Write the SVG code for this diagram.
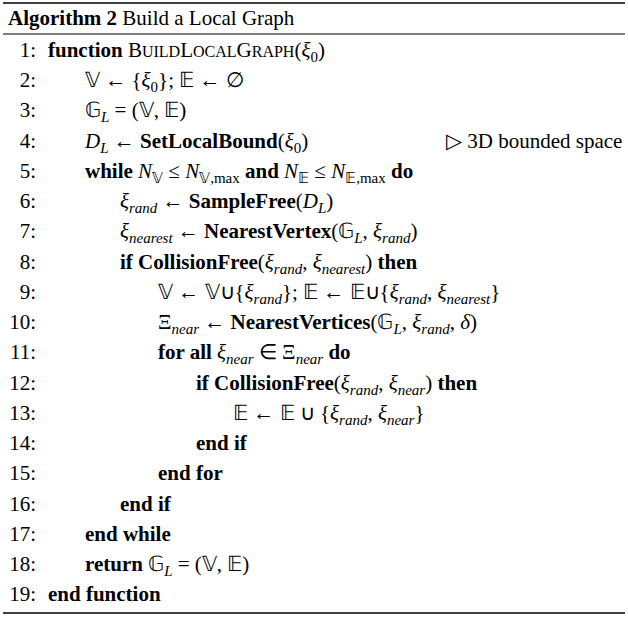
<svg xmlns="http://www.w3.org/2000/svg" width="628" height="618" viewBox="0 0 628 618">
<style>
text{font-family:"Liberation Serif","Times New Roman",Tinos,serif;font-size:21px;fill:#000}
.n{text-anchor:end}
.b{font-weight:bold}
.i{font-style:italic}
.s{font-size:15px}
.sc{font-size:16px}
</style>
<rect width="628" height="618" fill="#fff"/>
<line x1="3" y1="3" x2="625" y2="3" stroke="#000" stroke-width="1.5"/>
<line x1="3" y1="34" x2="625" y2="34" stroke="#000" stroke-width="1"/>
<line x1="3" y1="613" x2="625" y2="613" stroke="#000" stroke-width="1.5"/>
<text x="8" y="25"><tspan class="b">Algorithm 2</tspan> Build a Local Graph</text>
<g id="lines">
<text class="n" x="36" y="57">1:</text><text x="48" y="57"><tspan class="b">function</tspan> B<tspan class="sc">UILD</tspan>L<tspan class="sc">OCAL</tspan>G<tspan class="sc">RAPH</tspan>(<tspan class="i">ξ</tspan><tspan class="s" dy="5">0</tspan><tspan dy="-5">)</tspan></text>
<text class="n" x="36" y="87">2:</text><text x="85" y="87">𝕍 ← {<tspan class="i">ξ</tspan><tspan class="s" dy="5">0</tspan><tspan dy="-5">}; 𝔼 ← ∅</tspan></text>
<text class="n" x="36" y="117">3:</text><text x="85" y="117">𝔾<tspan class="s i" dy="5">L</tspan><tspan dy="-5"> = (𝕍, 𝔼)</tspan></text>
<text class="n" x="36" y="148">4:</text><text x="85" y="148"><tspan class="i">D</tspan><tspan class="s i" dy="5">L</tspan><tspan dy="-5"> ← </tspan><tspan class="b">SetLocalBound</tspan>(<tspan class="i">ξ</tspan><tspan class="s" dy="5">0</tspan><tspan dy="-5">)</tspan></text>
<text x="446" y="148">▷ 3D bounded space</text>
<text class="n" x="36" y="178">5:</text><text x="85" y="178"><tspan class="b">while</tspan> <tspan class="i">N</tspan><tspan class="s" dy="5">𝕍</tspan><tspan dy="-5"> ≤ </tspan><tspan class="i">N</tspan><tspan class="s" dy="5">𝕍,max</tspan><tspan dy="-5"> </tspan><tspan class="b">and</tspan> <tspan class="i">N</tspan><tspan class="s" dy="5">𝔼</tspan><tspan dy="-5"> ≤ </tspan><tspan class="i">N</tspan><tspan class="s" dy="5">𝔼,max</tspan><tspan dy="-5"> </tspan><tspan class="b">do</tspan></text>
<text class="n" x="36" y="208">6:</text><text x="120" y="208"><tspan class="i">ξ</tspan><tspan class="s i" dy="5">rand</tspan><tspan dy="-5"> ← </tspan><tspan class="b">SampleFree</tspan>(<tspan class="i">D</tspan><tspan class="s i" dy="5">L</tspan><tspan dy="-5">)</tspan></text>
<text class="n" x="36" y="238">7:</text><text x="120" y="238"><tspan class="i">ξ</tspan><tspan class="s i" dy="5">nearest</tspan><tspan dy="-5"> ← </tspan><tspan class="b">NearestVertex</tspan>(𝔾<tspan class="s i" dy="5">L</tspan><tspan dy="-5">, </tspan><tspan class="i">ξ</tspan><tspan class="s i" dy="5">rand</tspan><tspan dy="-5">)</tspan></text>
<text class="n" x="36" y="269">8:</text><text x="120" y="269"><tspan class="b">if CollisionFree</tspan>(<tspan class="i">ξ</tspan><tspan class="s i" dy="5">rand</tspan><tspan dy="-5">, </tspan><tspan class="i">ξ</tspan><tspan class="s i" dy="5">nearest</tspan><tspan dy="-5">) </tspan><tspan class="b">then</tspan></text>
<text class="n" x="36" y="299">9:</text><text x="158" y="299">𝕍 ← 𝕍∪{<tspan class="i">ξ</tspan><tspan class="s i" dy="5">rand</tspan><tspan dy="-5">}; 𝔼 ← 𝔼∪{</tspan><tspan class="i">ξ</tspan><tspan class="s i" dy="5">rand</tspan><tspan dy="-5">, </tspan><tspan class="i">ξ</tspan><tspan class="s i" dy="5">nearest</tspan><tspan dy="-5">}</tspan></text>
<text class="n" x="36" y="329">10:</text><text x="158" y="329">Ξ<tspan class="s i" dy="5">near</tspan><tspan dy="-5"> ← </tspan><tspan class="b">NearestVertices</tspan>(𝔾<tspan class="s i" dy="5">L</tspan><tspan dy="-5">, </tspan><tspan class="i">ξ</tspan><tspan class="s i" dy="5">rand</tspan><tspan dy="-5">, </tspan><tspan class="i">δ</tspan>)</text>
<text class="n" x="36" y="359">11:</text><text x="158" y="359"><tspan class="b">for all</tspan> <tspan class="i">ξ</tspan><tspan class="s i" dy="5">near</tspan><tspan dy="-5"> ∈ Ξ</tspan><tspan class="s i" dy="5">near</tspan><tspan dy="-5"> </tspan><tspan class="b">do</tspan></text>
<text class="n" x="36" y="390">12:</text><text x="196" y="390"><tspan class="b">if CollisionFree</tspan>(<tspan class="i">ξ</tspan><tspan class="s i" dy="5">rand</tspan><tspan dy="-5">, </tspan><tspan class="i">ξ</tspan><tspan class="s i" dy="5">near</tspan><tspan dy="-5">) </tspan><tspan class="b">then</tspan></text>
<text class="n" x="36" y="420">13:</text><text x="233" y="420">𝔼 ← 𝔼 ∪ {<tspan class="i">ξ</tspan><tspan class="s i" dy="5">rand</tspan><tspan dy="-5">, </tspan><tspan class="i">ξ</tspan><tspan class="s i" dy="5">near</tspan><tspan dy="-5">}</tspan></text>
<text class="n" x="36" y="450">14:</text><text x="196" y="450" class="b">end if</text>
<text class="n" x="36" y="480">15:</text><text x="158" y="480" class="b">end for</text>
<text class="n" x="36" y="511">16:</text><text x="120" y="511" class="b">end if</text>
<text class="n" x="36" y="541">17:</text><text x="85" y="541" class="b">end while</text>
<text class="n" x="36" y="571">18:</text><text x="85" y="571"><tspan class="b">return</tspan> 𝔾<tspan class="s i" dy="5">L</tspan><tspan dy="-5"> = (𝕍, 𝔼)</tspan></text>
<text class="n" x="36" y="601">19:</text><text x="48" y="601" class="b">end function</text>
</g>
</svg>
